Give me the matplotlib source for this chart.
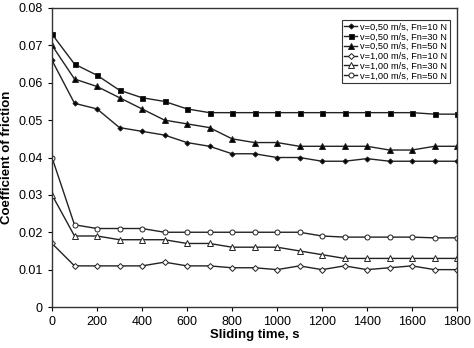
import matplotlib
matplotlib.use("Agg")
import matplotlib.pyplot as plt

plt.rcParams['font.family'] = ['Liberation Sans', 'DejaVu Sans']

time_s = [0, 100, 200, 300, 400, 500, 600, 700, 800, 900, 1000, 1100, 1200, 1300, 1400, 1500, 1600, 1700, 1800]

v050_fn10 = [0.066, 0.0545, 0.053, 0.048, 0.047, 0.046, 0.044, 0.043, 0.041, 0.041, 0.040, 0.040, 0.039, 0.039, 0.0397, 0.039, 0.039, 0.039, 0.039]
v050_fn30 = [0.073, 0.065, 0.062, 0.058, 0.056, 0.055, 0.053, 0.052, 0.052, 0.052, 0.052, 0.052, 0.052, 0.052, 0.052, 0.052, 0.052, 0.0516, 0.0516]
v050_fn50 = [0.070, 0.061, 0.059, 0.056, 0.053, 0.050, 0.049, 0.048, 0.045, 0.044, 0.044, 0.043, 0.043, 0.043, 0.043, 0.042, 0.042, 0.043, 0.043]
v100_fn10 = [0.017, 0.011, 0.011, 0.011, 0.011, 0.012, 0.011, 0.011, 0.0105, 0.0105, 0.010, 0.011, 0.010, 0.011, 0.010, 0.0105, 0.011, 0.010, 0.010]
v100_fn30 = [0.030, 0.019, 0.019, 0.018, 0.018, 0.018, 0.017, 0.017, 0.016, 0.016, 0.016, 0.015, 0.014, 0.013, 0.013, 0.013, 0.013, 0.013, 0.013]
v100_fn50 = [0.040, 0.022, 0.021, 0.021, 0.021, 0.020, 0.020, 0.020, 0.020, 0.020, 0.020, 0.020, 0.019, 0.0187, 0.0187, 0.0187, 0.0187, 0.0185, 0.0185]

labels = ["v=0,50 m/s, Fn=10 N", "v=0,50 m/s, Fn=30 N", "v=0,50 m/s, Fn=50 N",
          "v=1,00 m/s, Fn=10 N", "v=1,00 m/s, Fn=30 N", "v=1,00 m/s, Fn=50 N"]

fig = plt.figure(figsize=(4.74, 3.48), dpi=100)
fig.patch.set_facecolor('white')
ax = fig.add_axes([52/474, 1 - 307/348, 405/474, 299/348])

series = [v050_fn10, v050_fn30, v050_fn50, v100_fn10, v100_fn30, v100_fn50]
styles = [('D', 'black', 2.6), ('s', 'black', 3.6), ('^', 'black', 3.8),
          ('D', 'white', 3.0), ('^', 'white', 3.8), ('o', 'white', 3.6)]
for ys, lab, (m, fc, ms) in zip(series, labels, styles):
    ax.plot(time_s, ys, color='#222222', lw=1.0, marker=m, markersize=ms,
            markerfacecolor=fc, markeredgecolor='#222222', markeredgewidth=0.7, label=lab)

ax.set_xlim(0, 1800)
ax.set_ylim(0, 0.08)
ax.set_xticks(range(0, 1801, 200))
ax.set_yticks([0, 0.01, 0.02, 0.03, 0.04, 0.05, 0.06, 0.07, 0.08])
ax.set_yticklabels(['0', '0.01', '0.02', '0.03', '0.04', '0.05', '0.06', '0.07', '0.08'])
ax.tick_params(axis='both', labelsize=9, direction='out', length=3, width=0.8, colors='black')
for s in ax.spines.values():
    s.set_linewidth(1.0)
    s.set_color('#333333')

ax.set_xlabel('Sliding time, s', fontsize=9.5, fontweight='bold', labelpad=1)
ax.set_ylabel('Coefficient of friction', fontsize=9.5, fontweight='bold', labelpad=4)

leg = ax.legend(loc='upper right', bbox_to_anchor=(0.983, 0.96), fontsize=6.7,
                frameon=True, fancybox=False, edgecolor='black', handlelength=1.4,
                handletextpad=0.3, labelspacing=0.08, borderpad=0.3, borderaxespad=0)
leg.get_frame().set_linewidth(0.8)

fig.savefig('out.png', dpi=100, facecolor='white')
